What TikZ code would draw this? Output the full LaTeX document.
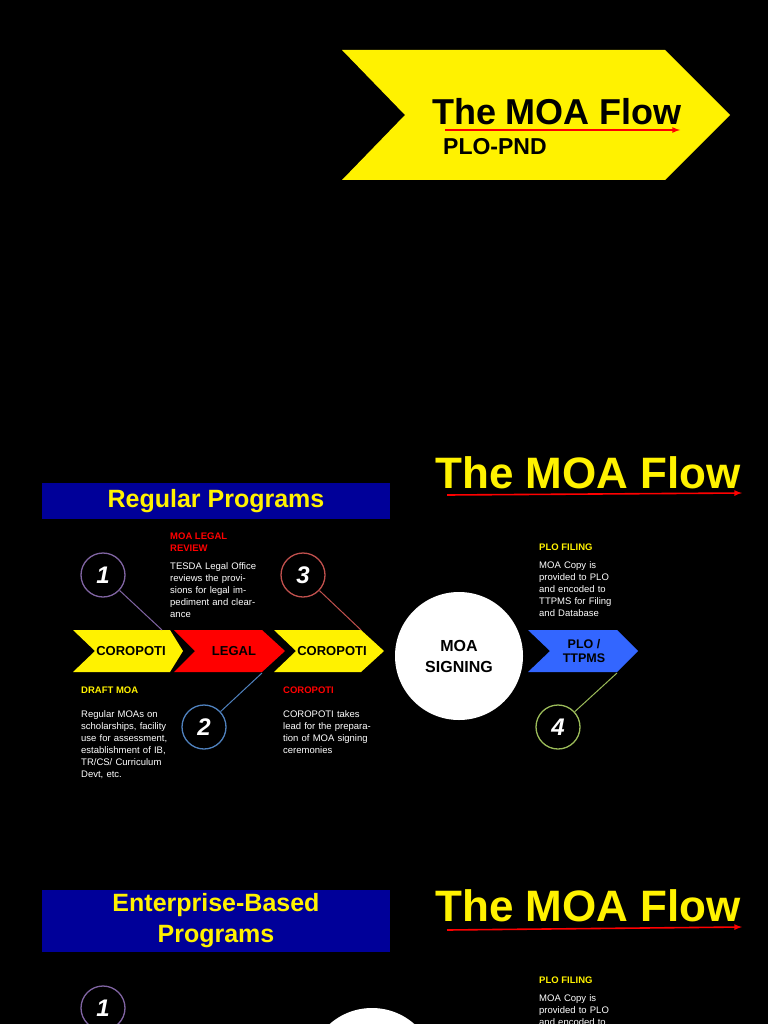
\documentclass[tikz,border=0pt]{standalone}
\usepackage{fontspec}
\setmainfont{Liberation Sans}
\definecolor{navy}{RGB}{0,0,153}
\definecolor{cpur}{RGB}{128,100,162}
\definecolor{cred}{RGB}{192,80,77}
\definecolor{cblu}{RGB}{79,129,189}
\definecolor{cgrn}{RGB}{155,187,89}
\definecolor{chevblue}{RGB}{51,102,255}
\begin{document}
\begin{tikzpicture}[x=1pt,y=-1pt,
  title/.style={font=\bfseries\fontsize{44}{48}\selectfont, text=yellow, inner sep=0},
  hdr/.style={fill=navy, text=yellow, font=\bfseries\fontsize{25}{31}\selectfont, align=center},
  small/.style={font=\fontsize{9.5}{12}\selectfont, text=white, align=left, anchor=north west, inner sep=0, text width=#1},
  lab/.style={font=\bfseries\fontsize{9.5}{12}\selectfont, anchor=north west, inner sep=0, align=left},
  num/.style={circle, draw=#1, line width=1.3pt, minimum size=44pt, inner sep=0, font=\bfseries\itshape\fontsize{24}{24}\selectfont, text=white},
  chev/.style={font=\bfseries\fontsize{13}{15}\selectfont, text=black, align=center},
  redarrow/.style={red, line width=1.6pt, -latex}]
\fill[black] (0,0) rectangle (768,1024);
\useasboundingbox (0,0) rectangle (768,1024);
% top chevron
\fill[yellow] (342,50) -- (665,50) -- (730,115) -- (665,180) -- (342,180) -- (405,115) -- cycle;
\node[font=\bfseries\fontsize{36}{40}\selectfont, inner sep=0] (t0) at (557,112) {The MOA Flow};
\coordinate (a0s) at (445,130); \coordinate (a0e) at (680,130);
\draw[redarrow] (a0s) -- (a0e);
\node[font=\bfseries\fontsize{23}{26}\selectfont, anchor=west, inner sep=0] (plo) at (443,147) {PLO-PND};
% section 2
\node[title] (t1) at (588,473) {The MOA Flow};
\coordinate (a1s) at (447,495); \coordinate (a1e) at (742,493);
\draw[redarrow] (a1s) -- (a1e);
\node[hdr, minimum width=348pt, minimum height=36pt] (h1) at (216,501) {Regular Programs};
% chevrons
\fill[yellow] (73,630) -- (170,630) -- (183,651) -- (170,672) -- (73,672) -- (95,651) -- cycle;
\fill[red] (174,630) -- (262,630) -- (285,651) -- (262,672) -- (174,672) -- (195,651) -- cycle;
\fill[yellow] (274,630) -- (361,630) -- (384,651) -- (361,672) -- (274,672) -- (296,651) -- cycle;
\fill[chevblue] (528,630) -- (617,630) -- (638,651) -- (617,672) -- (528,672) -- (550,651) -- cycle;
\node[chev] (c1) at (131,651) {COROPOTI};
\node[chev] (c2) at (234,651) {LEGAL};
\node[chev] (c3) at (332,651) {COROPOTI};
\node[chev, font=\bfseries\fontsize{12.5}{14}\selectfont] (c4) at (584,651) {PLO /\\TTPMS};
\node[circle, fill=white, minimum size=128pt, inner sep=0, chev, font=\bfseries\fontsize{16}{21}\selectfont] (sign) at (459,656) {MOA\\SIGNING};
% numbered circles
\node[num=cpur] (n1) at (103,575) {1};
\node[num=cred] (n3) at (303,575) {3};
\node[num=cblu] (n2) at (204,727) {2};
\node[num=cgrn] (n4) at (558,727) {4};
\coordinate (p1) at (162,630); \coordinate (p3) at (361,630);
\coordinate (p2) at (262,673); \coordinate (p4) at (617,673);
\draw[cpur, line width=1pt] (n1) -- (p1);
\draw[cred, line width=1pt] (n3) -- (p3);
\draw[cblu, line width=1pt] (n2) -- (p2);
\draw[cgrn, line width=1pt] (n4) -- (p4);
% texts
\node[lab, text=red] (l2) at (170,533) {MOA LEGAL\\REVIEW};
\node[small=90pt] (d2) at (170,562) {TESDA Legal Office reviews the provisions for legal impediment and clearance};
\node[lab, text=yellow] (l1) at (81,687) {DRAFT MOA};
\node[small=92pt] (d1) at (81,710) {Regular MOAs on scholarships, facility use for assessment, establishment of IB, TR/CS/ Curriculum Devt, etc.};
\node[lab, text=red] (l3) at (283,687) {COROPOTI};
\node[small=92pt] (d3) at (283,710) {COROPOTI takes lead for the preparation of MOA signing ceremonies};
\node[lab, text=yellow] (l4) at (539,544) {PLO FILING};
\node[small=80pt] (d4) at (539,561) {MOA Copy is provided to PLO and encoded to TTPMS for Filing and Database};
% section 3
\node[title] (t2) at (588,906) {The MOA Flow};
\coordinate (a2s) at (447,930); \coordinate (a2e) at (742,927);
\draw[redarrow] (a2s) -- (a2e);
\node[hdr, minimum width=348pt, minimum height=60pt] (h2) at (216,921) {Enterprise-Based\\Programs};
\node[num=cpur] (m1) at (103,1008) {1};
\node[circle, fill=white, minimum size=128pt, inner sep=0] (sign2) at (372,1072) {};
\node[lab, text=yellow] (l5) at (539,977) {PLO FILING};
\node[small=80pt] (d5) at (539,994) {MOA Copy is provided to PLO and encoded to TTPMS for Filing and Database};
\end{tikzpicture}
\end{document}
